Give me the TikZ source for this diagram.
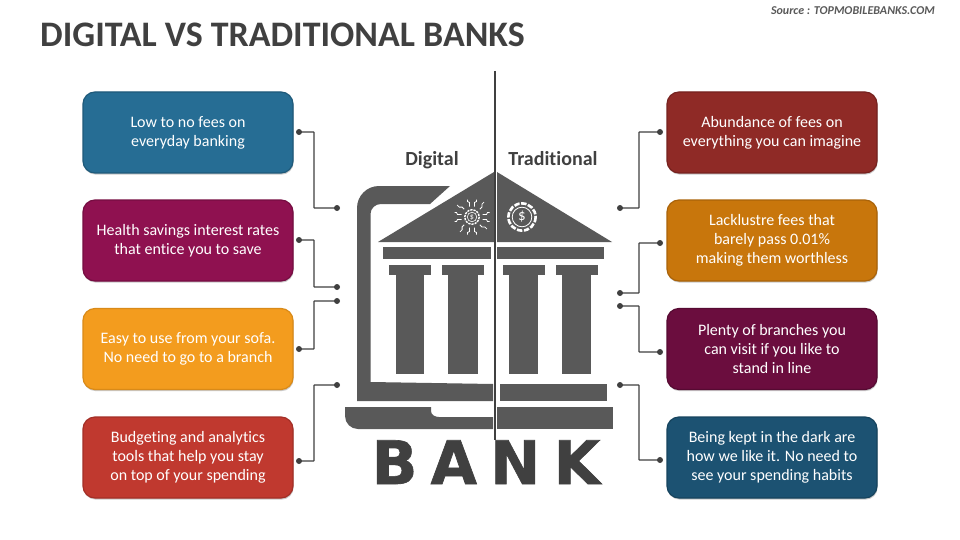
\documentclass[tikz,border=0pt]{standalone}
\usepackage{fontspec}
\setmainfont{Carlito}[Ligatures=CommonOff]
\newfontfamily\bankfont{DejaVu Sans Bold}[LetterSpace=22,FakeBold=1.1]
\usetikzlibrary{shadows,calc}
\definecolor{ink}{HTML}{595959}
\definecolor{dark}{HTML}{404040}
\definecolor{c1}{HTML}{266D94}\definecolor{c1b}{HTML}{1F5A7A}
\definecolor{c2}{HTML}{8F1150}\definecolor{c2b}{HTML}{760D42}
\definecolor{c3}{HTML}{F39C1E}\definecolor{c3b}{HTML}{D98A18}
\definecolor{c4}{HTML}{C0392F}\definecolor{c4b}{HTML}{A32F27}
\definecolor{c5}{HTML}{8F2A26}\definecolor{c5b}{HTML}{76221F}
\definecolor{c6}{HTML}{C8760C}\definecolor{c6b}{HTML}{A9630A}
\definecolor{c7}{HTML}{6B0D3E}\definecolor{c7b}{HTML}{560A32}
\definecolor{c8}{HTML}{1C5272}\definecolor{c8b}{HTML}{16445E}
\tikzset{
  x=1pt,y=-1pt,
  cardbox/.style={rounded corners=12pt,minimum width=210pt,minimum height=81pt,inner sep=0pt,
    align=center,text=white,line width=1.2pt,
    font=\fontsize{16}{19}\selectfont,
    general shadow={fill=black!45,opacity=.45,shadow xshift=0.6pt,shadow yshift=-1.6pt}},
  wire/.style={draw=dark,line width=1.2pt,rounded corners=0.5pt},
  dot/.style={circle,fill=dark,minimum size=6pt,inner sep=0pt},
  bankpart/.style={fill=ink,draw=none},
  head/.style={font=\fontsize{20}{22}\bfseries\selectfont,text=dark,inner sep=0pt,anchor=base},
  icon/.style={draw=white,line width=0.8pt},
}
\begin{document}
\begin{tikzpicture}
\useasboundingbox (0,0) rectangle (960,540);
\fill[white] (0,0) rectangle (960,540);

% title and source
\node[anchor=west,inner sep=0pt,text=dark,font=\fontsize{35.9}{40}\bfseries\selectfont] (title) at (40,35) {DIGITAL VS TRADITIONAL BANKS};
\node[anchor=east,inner sep=0pt,text=ink,font=\fontsize{12}{14}\bfseries\itshape\selectfont] (source) at (935,11) {Source : TOPMOBILEBANKS.COM};

% left cards
\node[cardbox,fill=c1,draw=c1b] (l1) at (188,132.5) {Low to no fees on\\everyday banking};
\node[cardbox,fill=c2,draw=c2b] (l2) at (188,240.5) {Health savings interest rates\\that entice you to save};
\node[cardbox,fill=c3,draw=c3b] (l3) at (188,349) {Easy to use from your sofa.\\No need to go to a branch};
\node[cardbox,fill=c4,draw=c4b] (l4) at (188,457.5) {Budgeting and analytics\\tools that help you stay\\on top of your spending};
% right cards
\node[cardbox,fill=c5,draw=c5b] (r1) at (772,132.5) {Abundance of fees on\\everything you can imagine};
\node[cardbox,fill=c6,draw=c6b] (r2) at (772,240.5) {Lacklustre fees that\\barely pass 0.01\%\\making them worthless};
\node[cardbox,fill=c7,draw=c7b] (r3) at (772,349) {Plenty of branches you\\can visit if you like to\\stand in line};
\node[cardbox,fill=c8,draw=c8b] (r4) at (772,457.5) {Being kept in the dark are\\how we like it. No need to\\see your spending habits};

% connector dots
\coordinate (lx) at (314,0);
\coordinate (rx) at (639,0);
\node[dot] (a1) at (299,132) {}; \node[dot] (b1) at (337,208) {};
\node[dot] (a2) at (299,240) {}; \node[dot] (b2) at (337,287) {};
\node[dot] (a3) at (299,349) {}; \node[dot] (b3) at (337,301) {};
\node[dot] (a4) at (299,461) {}; \node[dot] (b4) at (337,385) {};
\node[dot] (e1) at (660,132) {}; \node[dot] (d1) at (620,208) {};
\node[dot] (e2) at (660,243) {}; \node[dot] (d2) at (620,293) {};
\node[dot] (e3) at (660,352) {}; \node[dot] (d3) at (620,306) {};
\node[dot] (e4) at (660,460) {}; \node[dot] (d4) at (620,385) {};
\foreach \p/\q in {a1/b1,a2/b2,a3/b3,a4/b4}
  \path[wire] (\p.center) -- (lx |- \p.center) -- (lx |- \q.center) -- (\q.center);
\foreach \p/\q in {e1/d1,e2/d2,e3/d3,e4/d4}
  \path[wire] (\p.center) -- (rx |- \p.center) -- (rx |- \q.center) -- (\q.center);

% headers
\node[head] (digital) at (432,165) {Digital};
\node[head] (traditional) at (553,165) {Traditional};

% bank: roof
\path[bankpart] (494,172) -- (378,242) -- (494,242) -- cycle;
\path[bankpart] (497,172) -- (612,242) -- (497,242) -- cycle;
% bars
\path[bankpart] (383,247) rectangle (491,259);
\path[bankpart] (497,247) rectangle (604,259);
% columns
\foreach \cx/\sx/\sw in {389/396/424,442/448/478,503/509/538,556/562/591}{
  \path[bankpart] (\cx,265) rectangle ++(42,10);
  \path[bankpart] (\sx,275) rectangle (\sw,374);
}
% laptop
\path[bankpart] (450,186) -- (379,186) to[out=180,in=90] (357,208) -- (357,401) -- (493,401) -- (493,384) -- (370.5,382)
   -- (370.5,214) to[out=90,in=180] (381,204) -- (430,204) -- cycle;
\path[bankpart] (500,384) rectangle (607,401);
\path[bankpart] (345,407) -- (431,407) -- (431,411) to[out=-90,in=180] (439,417) -- (493,417) -- (493,429)
   -- (358,429) to[out=180,in=-90] (345,416) -- cycle;
\path[bankpart] (497,407) rectangle (613,429);

% icons
\begin{scope}[shift={(522,217)}]
  \draw[icon,line width=2.6pt,dash pattern=on 5.4pt off 1.6pt] (0,0) circle (13.6);
  \draw[icon] (0,0) circle (9.8);
  \node[text=white,inner sep=0pt,font=\fontsize{15}{15}\selectfont] (iconb) at (0,0) {\$};
\end{scope}
\begin{scope}[shift={(472,217)}]
  \draw[icon,line width=1.4pt,dash pattern=on 2.2pt off 1pt] (0,0) circle (7.2);
  \draw[icon,line width=0.6pt] (0,0) circle (4.8);
  \node[text=white,inner sep=0pt,font=\fontsize{8}{8}\selectfont] (icona) at (0,0) {\$};
  \foreach \r in {0,90,180,270}{
    \begin{scope}[rotate=\r]
      \draw[icon] (10.5,-2.5) -- (14.5,-2.5) -- (15.5,-4.5) -- (17.5,-4.5);
      \draw[icon] (10.5,2.5) -- (14.5,2.5) -- (15.5,4.5) -- (17.5,4.5);
    \end{scope}
  }
  \foreach \r in {45,135,225,315}{
    \begin{scope}[rotate=\r]
      \draw[icon] (11,0) -- (14,0) -- (16,-2) -- (19,-2);
    \end{scope}
  }
\end{scope}

% BANK word
\node[anchor=base west,inner sep=0pt,text=dark,font=\bankfont\fontsize{60}{60}\selectfont] (bank) at (371.5,484) {BANK};

% divider
\coordinate (divtop) at (495,71);
\coordinate (divbot) at (495,440);
\draw[dark,line width=1.5pt] (divtop) -- (divbot);
\end{tikzpicture}
\end{document}
